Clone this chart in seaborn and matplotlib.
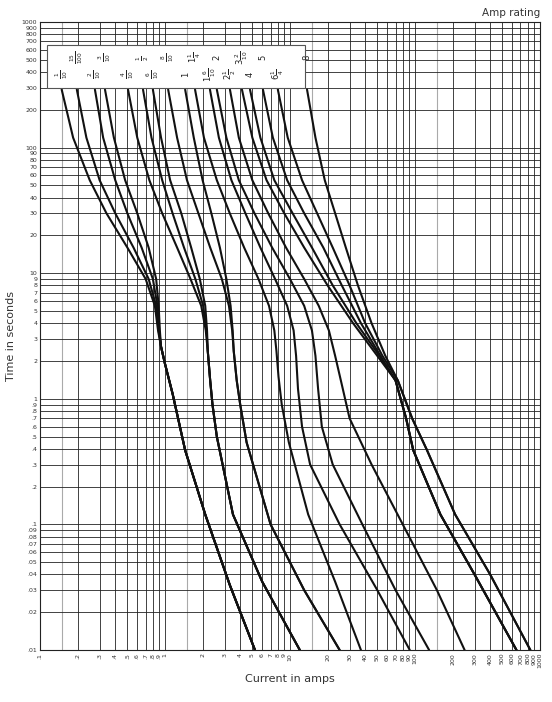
import numpy as np
import pandas as pd
import seaborn as sns
import matplotlib.pyplot as plt
from matplotlib.patches import Rectangle
from matplotlib.ticker import FixedLocator, NullLocator

# shared lower branches (current A, time s)
g1_amps = [0.93, 1.0, 1.15, 1.45, 2.1, 3.3, 5.25]
g1_secs = [2.6, 1.9, 1.1, 0.39, 0.12, 0.033, 0.01]
g2_amps = [2.2, 2.3, 2.4, 2.6, 3.5, 6, 12]
g2_secs = [2.4, 1.4, 0.9, 0.5, 0.12, 0.035, 0.01]
g3_amps = [3.55, 3.75, 4.0, 4.5, 7, 13, 25]
g3_secs = [2.4, 1.4, 0.9, 0.45, 0.1, 0.03, 0.01]
g4_amps = [7.8, 8.1, 8.6, 9.8, 14, 23, 37]
g4_secs = [2.4, 1.5, 0.9, 0.45, 0.12, 0.035, 0.01]
g5_amps = [11.2, 11.6, 12.5, 14.5, 25, 50, 91]
g5_secs = [2.2, 1.2, 0.6, 0.3, 0.1, 0.03, 0.01]
g6_amps = [16, 16.8, 18, 22, 38, 70, 130]
g6_secs = [2.2, 1.2, 0.6, 0.3, 0.1, 0.03, 0.01]
g7_amps = [23, 26, 30, 45, 80, 150, 250]
g7_secs = [2.2, 1.3, 0.7, 0.3, 0.1, 0.03, 0.01]
g8_amps = [70, 85, 97, 160, 300, 650]
g8_secs = [1.4, 0.7, 0.39, 0.12, 0.04, 0.01]
g9_amps = [73, 95, 125, 210, 400, 840]
g9_secs = [1.4, 0.7, 0.39, 0.12, 0.04, 0.01]

head_secs = [290, 120, 55, 30, 16, 9, 5.5, 3.5]
head_secs_long = [290, 120, 55, 30, 16, 8, 4, 2.2]

ratings = [r'$\frac{1}{10}$', r'$\frac{15}{100}$', r'$\frac{2}{10}$', r'$\frac{3}{10}$',
           r'$\frac{4}{10}$', r'$\frac{1}{2}$', r'$\frac{6}{10}$', r'$\frac{8}{10}$',
           '1', r'$1\frac{1}{4}$', r'$1\frac{6}{10}$', '2', r'$2\frac{1}{2}$',
           r'$3\frac{2}{10}$', '4', '5', r'$6\frac{1}{4}$', '8']

heads_short = [
    [0.149, 0.184, 0.25, 0.34, 0.5, 0.7, 0.83, 0.88],
    [0.197, 0.235, 0.3, 0.4, 0.56, 0.74, 0.85, 0.89],
    [0.275, 0.32, 0.4, 0.5, 0.65, 0.8, 0.87, 0.9],
    [0.331, 0.39, 0.48, 0.6, 0.74, 0.85, 0.89, 0.91],
    [0.506, 0.6, 0.75, 0.95, 1.25, 1.6, 1.95, 2.12],
    [0.667, 0.78, 0.95, 1.15, 1.42, 1.75, 2.02, 2.15],
    [0.80, 0.93, 1.1, 1.35, 1.62, 1.9, 2.1, 2.17],
    [1.06, 1.25, 1.5, 1.85, 2.3, 2.85, 3.25, 3.45],
    [1.45, 1.7, 2.0, 2.35, 2.75, 3.1, 3.35, 3.48],
    [1.74, 2.05, 2.6, 3.3, 4.3, 5.6, 6.8, 7.5],
    [2.29, 2.7, 3.4, 4.4, 5.8, 7.6, 9.5, 10.7],
    [2.6, 3.1, 3.9, 5.2, 7.2, 10, 13, 15],
    [3.31, 3.9, 5.0, 6.7, 9.3, 13, 17, 20.5],
]
heads_long = [
    [4.13, 5, 6.5, 9, 13, 20, 32, 50],
    [4.79, 5.8, 7.5, 10.5, 15, 22, 34, 52],
    [6.08, 7.3, 9.5, 13, 18.5, 26, 37, 53],
    [8, 9.6, 12.5, 16.5, 22, 30, 40, 55],
    [13.7, 16, 19, 23, 28, 35, 45, 58],
]
groups = [1, 1, 1, 1, 2, 2, 2, 3, 3, 4, 5, 6, 7, 8, 8, 8, 9, 9]
tails = {1: (g1_amps, g1_secs), 2: (g2_amps, g2_secs), 3: (g3_amps, g3_secs),
         4: (g4_amps, g4_secs), 5: (g5_amps, g5_secs), 6: (g6_amps, g6_secs),
         7: (g7_amps, g7_secs), 8: (g8_amps, g8_secs), 9: (g9_amps, g9_secs)}

heads = heads_short + heads_long
rows = []
for i, (h, g) in enumerate(zip(heads, groups)):
    hs = head_secs_long if i >= len(heads_short) else head_secs
    ta, ts = tails[g]
    for k, (a, s) in enumerate(zip(h + ta, hs + ts)):
        rows.append((i, k, a, s))
df = pd.DataFrame(rows, columns=['curve', 'order', 'amps', 'secs'])

sns.set_style('white')
fig = plt.figure(figsize=(5.52, 7.02), dpi=100)
ax = fig.add_axes([0.0725, 0.074, 0.9055, 0.8947])
ax.set_xscale('log')
ax.set_yscale('log')
ax.set_xlim(0.1, 1000)
ax.set_ylim(0.01, 1000)

sns.lineplot(data=df, x='amps', y='secs', units='curve', estimator=None, sort=False,
             color='#111111', lw=1.5, ax=ax, legend=False)

def fmt(v):
    s = ('%g' % v)
    return s[1:] if s.startswith('0.') else s

xt = [m * 10.0 ** e for e in range(-1, 3) for m in range(1, 10)] + [1000]
yt = [m * 10.0 ** e for e in range(-2, 3) for m in range(1, 10)] + [1000]
ax.xaxis.set_major_locator(FixedLocator(xt))
ax.yaxis.set_major_locator(FixedLocator(yt))
ax.xaxis.set_minor_locator(NullLocator())
ax.yaxis.set_minor_locator(NullLocator())
ax.set_xticklabels([fmt(v) for v in xt], rotation=90, fontsize=4.5, color='#333333')
ax.set_yticklabels([fmt(v) for v in yt], fontsize=4.5, color='#333333')
ax.tick_params(length=0, pad=2)
ax.grid(True, which='major', color='#222222', lw=0.6)
for v in [0.15, 1.5, 15, 150]:
    ax.axvline(v, color='#aaaaaa', lw=0.8, zorder=0)
for sp in ax.spines.values():
    sp.set_color('#222222')
    sp.set_linewidth(0.8)

ax.set_xlabel('Current in amps', fontsize=8, color='#333333')
ax.set_ylabel('Time in seconds', fontsize=8, color='#333333')
fig.text(0.978, 0.975, 'Amp rating', ha='right', va='bottom', fontsize=7.5, color='#333333')

ax.add_patch(Rectangle((0.014, 0.895), 0.516, 0.068, transform=ax.transAxes,
                       facecolor='white', edgecolor='#555555', lw=0.8, zorder=5))
for i, (lab, h) in enumerate(zip(ratings, heads)):
    yv = 380 if i % 2 == 0 else 520
    ax.text(h[0], yv, lab, rotation=90, ha='center', va='center', fontsize=6,
            color='#222222', zorder=6)

plt.savefig('out.png', dpi=100)
